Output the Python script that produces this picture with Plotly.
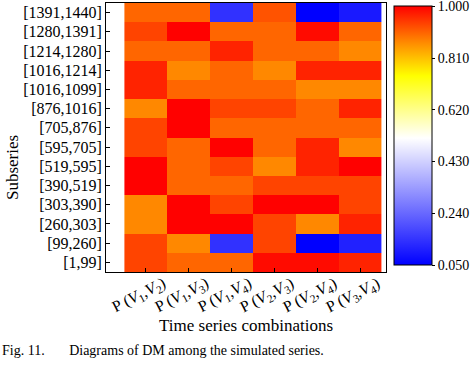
import plotly.graph_objects as go

# Column categories (time series combinations)
combos = ["V1V2", "V1V3", "V1V4", "V2V3", "V2V4", "V3V4"]
combo_labels = [
    "P (<i>V</i><sub>1</sub>,<i>V</i><sub>2</sub>)",
    "P (<i>V</i><sub>1</sub>,<i>V</i><sub>3</sub>)",
    "P (<i>V</i><sub>1</sub>,<i>V</i><sub>4</sub>)",
    "P (<i>V</i><sub>2</sub>,<i>V</i><sub>3</sub>)",
    "P (<i>V</i><sub>2</sub>,<i>V</i><sub>4</sub>)",
    "P (<i>V</i><sub>3</sub>,<i>V</i><sub>4</sub>)",
]

# Row categories, bottom to top
subseries = [
    "[1,99]", "[99,260]", "[260,303]", "[303,390]", "[390,519]",
    "[519,595]", "[595,705]", "[705,876]", "[876,1016]", "[1016,1099]",
    "[1016,1214]", "[1214,1280]", "[1280,1391]", "[1391,1440]",
]

# DM values, one list per subseries (bottom to top)
dm_1_99       = [0.934, 0.901, 0.901, 0.990, 0.990, 0.967]
dm_99_260     = [0.934, 0.868, 0.140, 0.934, 0.050, 0.110]
dm_260_303    = [0.868, 1.000, 1.000, 0.934, 0.868, 0.967]
dm_303_390    = [0.868, 1.000, 0.934, 1.000, 1.000, 0.934]
dm_390_519    = [1.000, 0.901, 0.901, 0.934, 0.934, 0.934]
dm_519_595    = [1.000, 0.901, 0.934, 0.868, 0.967, 1.000]
dm_595_705    = [0.934, 0.901, 1.000, 0.901, 0.967, 0.868]
dm_705_876    = [0.934, 1.000, 0.901, 0.901, 0.901, 0.901]
dm_876_1016   = [0.868, 1.000, 0.934, 0.934, 0.901, 0.967]
dm_1016_1099  = [0.967, 0.901, 0.901, 0.901, 0.868, 0.868]
dm_1016_1214  = [0.967, 0.868, 0.901, 0.868, 0.967, 0.967]
dm_1214_1280  = [0.901, 0.901, 0.967, 0.901, 0.901, 0.868]
dm_1280_1391  = [0.934, 1.000, 0.901, 0.901, 0.990, 0.901]
dm_1391_1440  = [0.901, 0.901, 0.140, 0.920, 0.050, 0.095]

z = [dm_1_99, dm_99_260, dm_260_303, dm_303_390, dm_390_519, dm_519_595,
     dm_595_705, dm_705_876, dm_876_1016, dm_1016_1099, dm_1016_1214,
     dm_1214_1280, dm_1280_1391, dm_1391_1440]

cbar_vals = [0.05, 0.24, 0.43, 0.62, 0.81, 1.0]
cbar_text = ["0.050", "0.240", "0.430", "0.620", "0.810", "1.000"]

colorscale = [
    [0.0, "rgb(0,0,255)"],
    [0.49, "rgb(255,255,255)"],
    [0.73, "rgb(255,255,0)"],
    [0.857, "rgb(255,140,0)"],
    [1.0, "rgb(255,0,0)"],
]

FONT = "Liberation Serif, Times New Roman, serif"

fig = go.Figure(go.Heatmap(
    z=z, x=combos, y=subseries,
    zmin=0.05, zmax=1.0005,
    colorscale=colorscale,
    colorbar=dict(
        x=1.0286, xanchor="left", xpad=0, ypad=0,
        y=0.507, yanchor="middle", len=0.963, lenmode="fraction",
        thickness=38, outlinecolor="black", outlinewidth=1,
        tickvals=cbar_vals, ticktext=cbar_text,
        ticks="outside", ticklen=3, tickcolor="black",
        ticklabeloverflow="allow",
        tickfont=dict(family=FONT, size=14, color="black"),
    ),
))

annotations = []
for c, lab in zip(combos, combo_labels):
    annotations.append(dict(
        text=lab, xref="x", yref="paper", x=c, y=(272 - 295) / 269,
        xshift=-7, textangle=-27, xanchor="center", yanchor="middle",
        showarrow=False, font=dict(family=FONT, size=16, color="black")))

annotations += [
    dict(text="Time series combinations", xref="paper", yref="paper",
         x=0.5, y=(272 - 325) / 269, xanchor="center", yanchor="middle",
         showarrow=False, font=dict(family=FONT, size=17, color="black")),
    dict(text="Subseries", xref="paper", yref="paper",
         x=(12 - 106) / 280, y=(272 - 168) / 269, textangle=-90,
         xanchor="center", yanchor="middle",
         showarrow=False, font=dict(family=FONT, size=17, color="black")),
    dict(text="Fig. 11.&nbsp;&nbsp;&nbsp;&nbsp;&nbsp;&nbsp;&nbsp;Diagrams of DM among the simulated series.",
         xref="paper", yref="paper",
         x=(0 - 106) / 280, y=(272 - 350) / 269, xanchor="left", yanchor="middle",
         showarrow=False, font=dict(family=FONT, size=14, color="black")),
]

fig.update_layout(
    width=474, height=369,
    margin=dict(l=106, r=88, t=3, b=97, autoexpand=False),
    paper_bgcolor="white", plot_bgcolor="white",
    font=dict(family=FONT, color="black"),
    xaxis=dict(
        showline=True, linecolor="black", linewidth=1, mirror=True,
        ticks="inside", ticklen=4, tickcolor="black",
        showticklabels=False, automargin=False,
    ),
    yaxis=dict(
        showline=True, linecolor="black", linewidth=1, mirror=True,
        ticks="inside", ticklen=4, tickcolor="black", automargin=False,
        tickfont=dict(family=FONT, size=16, color="black"),
    ),
    annotations=annotations,
)

fig.write_html(
    "out.html",
    config={"displayModeBar": False},
    post_script="document.body.style.margin='0';document.body.style.overflow='hidden';",
)
